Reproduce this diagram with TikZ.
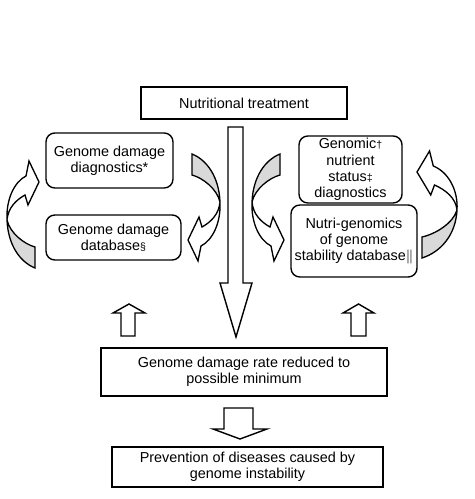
\documentclass[tikz,border=0pt]{standalone}
\usepackage{fontspec}
\setmainfont{Liberation Sans}
\newcommand{\smallmark}[1]{{\fontsize{6}{6}\selectfont #1}}

\tikzset{
	box/.style={draw, line width=0.8pt, align=center, inner sep=0pt,
		font=\fontsize{8.2}{9.2}\selectfont},
	rbox/.style={box, rounded corners=5pt},
	blockarrow/.style={draw, line width=0.8pt, line join=miter},
	pics/ribbon/.style={code={
		% grey back of the twisted band
		\fill[gray!30] (35,247) -- (35,268) .. controls (20,262) and (8,245) .. (7,220)
			.. controls (10,233) and (24,244) .. (35,247) -- cycle;
		\draw[line width=0.75pt, line join=miter] (35,247) -- (35,268)
			.. controls (20,262) and (8,245) .. (7,220)
			.. controls (6,200) and (14,182) .. (26,176)
			-- (29,161) -- (39,182) -- (28,205) -- (25,195)
			.. controls (16,200) and (8,208) .. (7,220)
			.. controls (10,233) and (24,244) .. (35,247) -- cycle;
	}}
}

\begin{document}
\begin{tikzpicture}[x=0.02cm, y=-0.02cm]
	\useasboundingbox (0,0) rectangle (474,499);

	% boxes
	\node[box, minimum width=4.12cm, minimum height=0.64cm] (treat) at (244,103) {Nutritional treatment};
	\node[rbox, minimum width=2.54cm, minimum height=1.1cm] (diag) at (109.5,160.5) {Genome damage\\diagnostics*};
	\node[rbox, minimum width=2.7cm, minimum height=0.9cm] (gdb) at (113.5,237.5) {Genome damage\\database\smallmark{§}};
	\node[rbox, minimum width=2.06cm, minimum height=1.34cm] (nutr) at (350.5,169.5) {Genomic\smallmark{†}\\nutrient\\status\smallmark{‡}\\diagnostics};
	\node[rbox, minimum width=2.52cm, minimum height=1.44cm] (ngdb) at (354,241) {Nutri-genomics\\of genome\\stability database$\|$};
	\node[box, minimum width=5.72cm, minimum height=0.96cm] (rate) at (244,372) {Genome damage rate reduced to\\possible minimum};
	\node[box, minimum width=5.42cm, minimum height=0.8cm] (prev) at (247.5,467) {Prevention of diseases caused by\\genome instability};

	% block arrows
	\draw[blockarrow] (228,127) -- (243,127) -- (243,283) -- (252,283) -- (236,337) -- (220,283) -- (228,283) -- cycle;
	\draw[blockarrow] (121,336) -- (121,313) -- (113,313) -- (129,304) -- (145,313) -- (135,313) -- (135,336) -- cycle;
	\draw[blockarrow] (351,336) -- (351,313) -- (343,313) -- (358.5,304) -- (374,313) -- (366,313) -- (366,336) -- cycle;
	\draw[blockarrow] (224,408) -- (253,408) -- (253,429) -- (267,429) -- (240,439) -- (213,429) -- (224,429) -- cycle;

	% curved arrows
	\pic {ribbon};
	\pic[shift={(227,422)}, xscale=-1, yscale=-1] {ribbon};
	\pic[shift={(245,422)}, yscale=-1] {ribbon};
	\pic[shift={(465.75,-10)}, xscale=-1.25] {ribbon};
\end{tikzpicture}
\end{document}
